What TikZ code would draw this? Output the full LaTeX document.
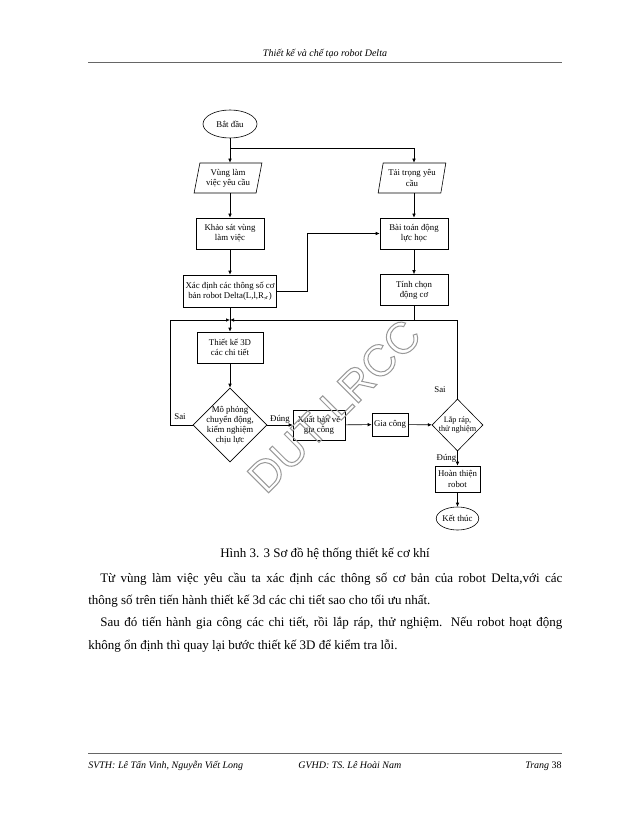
\documentclass[tikz,border=0pt]{standalone}
\usepackage{fontspec}
\setmainfont{Liberation Serif}
\newfontfamily\wmfont{Liberation Sans}
\usetikzlibrary{shapes.geometric,arrows.meta}

\begin{document}
\begin{tikzpicture}
[x=1pt,y=-1pt,>={Latex[length=4pt,width=3.5pt]},line width=0.6pt,
 box/.style={draw,rectangle,align=center,inner sep=0pt,font=\fontsize{8.8}{10.2}\selectfont},
 io/.style={draw,trapezium,trapezium left angle=76,trapezium right angle=104,trapezium stretches=true,
   align=center,inner sep=0pt,minimum width=68pt,minimum height=30pt,font=\fontsize{8.8}{10.2}\selectfont},
 term/.style={draw,ellipse,inner sep=0pt,font=\fontsize{8.8}{10.2}\selectfont},
 dia/.style={draw,diamond,inner sep=0pt},
 lbl/.style={inner sep=1pt,font=\fontsize{8.8}{10.2}\selectfont},
 txt/.style={inner sep=0pt,font=\fontsize{13}{15}\selectfont}]
\useasboundingbox (0,0) rectangle (638,826);
\fill[white] (0,0) rectangle (638,826);

% header and footer
\node[txt,anchor=base,font=\itshape\fontsize{10}{12}\selectfont] (head) at (325,57) {Thiết kế và chế tạo robot Delta};
\draw[gray!80!black,line width=0.8pt] (88,62) -- (562,62);
\draw[gray!80!black,line width=0.8pt] (88,753) -- (562,753);
\node[txt,anchor=base west,font=\itshape\fontsize{10}{12}\selectfont] (sv) at (88,768) {SVTH: Lê Tấn Vinh, Nguyễn Viết Long};
\node[txt,anchor=base west,font=\itshape\fontsize{10}{12}\selectfont] (gv) at (298,768) {GVHD: TS. Lê Hoài Nam};
\node[txt,anchor=base east,font=\fontsize{10}{12}\selectfont] (page) at (562,768) {\textit{Trang} 38};

% flowchart
\node[term,minimum width=54pt,minimum height=28pt] (start) at (230,124) {Bắt đầu};
\node[io] (vung) at (228,178) {Vùng làm\\việc yêu cầu};
\node[io] (taitrong) at (412,178) {Tải trọng yêu\\cầu};
\node[box,minimum width=68pt,minimum height=31pt] (khaosat) at (230,233.5) {Khảo sát vùng\\làm việc};
\node[box,minimum width=93pt,minimum height=32pt] (xacdinh) at (230,291) {Xác định các thông số cơ\\bản robot Delta(L,l,R,\textsubscript{r})};
\node[box,minimum width=68pt,minimum height=31pt] (baitoan) at (414,233.5) {Bài toán động\\lực học};
\node[box,minimum width=68pt,minimum height=31pt] (tinhchon) at (414,290) {Tính chọn\\động cơ};
\node[box,minimum width=66pt,minimum height=31pt] (thietke) at (230,347.5) {Thiết kế 3D\\các chi tiết};
\node[dia,minimum width=74pt,minimum height=74pt,
  label={[lbl,align=center]center:Mô phỏng\\chuyển động,\\kiểm nghiệm\\chịu lực}] (mophong) at (230,425) {};
\node[box,minimum width=52pt,minimum height=30pt] (xuatban) at (319,425) {Xuất bản vẽ\\gia công};
\node[box,minimum width=36pt,minimum height=23pt] (giacong) at (390,424.5) {Gia công};
\node[dia,minimum width=51pt,minimum height=52pt,
  label={[lbl,align=center,font=\fontsize{8.2}{9.6}\selectfont]center:Lắp ráp,\\thử nghiệm}] (laprap) at (457.5,425) {};
\node[box,minimum width=45pt,minimum height=26pt] (hoanthien) at (457.5,479) {Hoàn thiện\\robot};
\node[term,minimum width=41pt,minimum height=23pt] (ketthuc) at (457.5,518.5) {Kết thúc};

\coordinate (br) at (230,148);
\coordinate (jn) at (230,320);

\draw[->] (start) -- (start |- vung.north);
\draw[->] (br) -| (taitrong.north -| baitoan);
\draw[->] (start |- vung.south) -- (khaosat);
\draw[->] (khaosat) -- (xacdinh);
\draw[->] (taitrong.south -| baitoan) -- (baitoan);
\draw[->] (baitoan) -- (tinhchon);
\draw[->] (xacdinh.east) -- ++(30,0) |- (baitoan);
\draw[->] (xacdinh) -- (thietke);
\draw (tinhchon) -- (tinhchon |- jn);
\draw[->] (laprap.north) |- (jn);
\draw[->] (mophong.west) -- ++(-22,0) |- (jn);
\draw[->] (thietke) -- (mophong);
\draw[->] (mophong) -- (xuatban) node[lbl,midway,above] {Đúng};
\draw[->] (xuatban) -- (giacong);
\draw[->] (giacong) -- (laprap);
\draw[->] (laprap) -- (hoanthien) node[lbl,midway,left] {Đúng};
\draw[->] (hoanthien) -- (ketthuc);

\node[lbl] (sai1) at (180,417) {Sai};
\node[lbl] (sai2) at (440,390) {Sai};

% watermark (outlined letters)
\node[rotate=45,text=gray!55,inner sep=0pt,font=\wmfont\fontsize{44}{44}\selectfont] (wm) at (334,406)
  {\special{pdf:code 1 Tr 1 w 0.6 G}DUT-LRCC};

% caption and text
\node[txt,anchor=base] (cap) at (325,557) {Hình 3. 3 Sơ đồ hệ thống thiết kế cơ khí};
\node[txt,anchor=base west] (p1) at (100,582) {\makebox[462pt][s]{Từ vùng làm việc yêu cầu ta xác định các thông số cơ bản của robot Delta,với các}};
\node[txt,anchor=base west] (p2) at (88,604) {thông số trên tiến hành thiết kế 3d các chi tiết sao cho tối ưu nhất.};
\node[txt,anchor=base west] (p3) at (100,626) {\makebox[462pt][s]{Sau đó tiến hành gia công các chi tiết, rồi lắp ráp, thử nghiệm. Nếu robot hoạt động}};
\node[txt,anchor=base west] (p4) at (88,649) {không ổn định thì quay lại bước thiết kế 3D để kiểm tra lỗi.};
\end{tikzpicture}
\end{document}
